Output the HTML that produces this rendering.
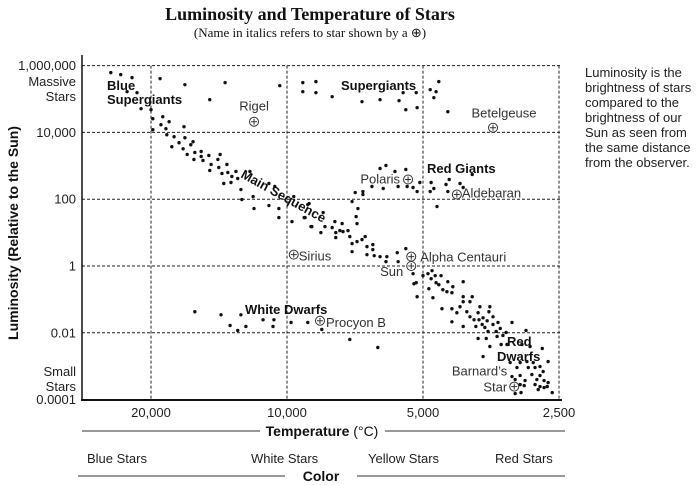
<!DOCTYPE html>
<html><head><meta charset="utf-8"><title>Luminosity and Temperature of Stars</title>
<style>
html,body{margin:0;padding:0;background:#fff;}
svg{display:block;font-family:"Liberation Sans",sans-serif;}
.tick{font-size:13px;fill:#222;}
.lbl{font-size:13px;fill:#333;}
.bold{font-size:13px;font-weight:bold;fill:#111;}
.grid{stroke:#222;stroke-width:1;stroke-dasharray:3,2;}
</style></head>
<body>
<svg id="chart" width="700" height="485" viewBox="0 0 700 485" xmlns="http://www.w3.org/2000/svg">
<text x="310" y="20" text-anchor="middle" style="font-family:'Liberation Serif',serif;font-weight:bold;font-size:18px;fill:#111">Luminosity and Temperature of Stars</text>
<text x="310" y="37" text-anchor="middle" style="font-family:'Liberation Serif',serif;font-size:13px;fill:#111">(Name in italics refers to star shown by a ⊕)</text>
<g id="grid"></g>
<line x1="82" y1="55" x2="82" y2="401" stroke="#111" stroke-width="1.5"/>
<line x1="81" y1="400" x2="562" y2="400" stroke="#111" stroke-width="2"/>
<g id="ticks"></g>
<text class="tick" text-anchor="end" x="76" y="86">Massive</text>
<text class="tick" text-anchor="end" x="76" y="101">Stars</text>
<text class="tick" text-anchor="end" x="76" y="376">Small</text>
<text class="tick" text-anchor="end" x="76" y="391">Stars</text>
<text transform="translate(18,233) rotate(-90)" text-anchor="middle" style="font-size:14px;font-weight:bold;fill:#111">Luminosity (Relative to the Sun)</text>
<line x1="82" y1="431" x2="260" y2="431" stroke="#333"/>
<line x1="385" y1="431" x2="565" y2="431" stroke="#333"/>
<text x="322" y="436" text-anchor="middle" style="font-size:14px;fill:#111"><tspan font-weight="bold">Temperature</tspan> (°C)</text>
<text class="tick" x="87" y="463">Blue Stars</text>
<text class="tick" x="251" y="463">White Stars</text>
<text class="tick" x="368" y="463">Yellow Stars</text>
<text class="tick" x="495" y="463">Red Stars</text>
<line x1="78" y1="476" x2="285" y2="476" stroke="#333"/>
<line x1="357" y1="476" x2="565" y2="476" stroke="#333"/>
<text x="321" y="481" text-anchor="middle" style="font-size:14px;font-weight:bold;fill:#111">Color</text>
<g class="lbl" style="font-size:13px;fill:#222">
<text x="585" y="77">Luminosity is the</text>
<text x="585" y="92">brightness of stars</text>
<text x="585" y="107">compared to the</text>
<text x="585" y="122">brightness of our</text>
<text x="585" y="137">Sun as seen from</text>
<text x="585" y="152">the same distance</text>
<text x="585" y="167">from the observer.</text>
</g>
<g id="dots"></g>
<g id="named"></g>
<g>
<text class="bold" x="107" y="90">Blue</text>
<text class="bold" x="107" y="104">Supergiants</text>
<text class="bold" x="341" y="90">Supergiants</text>
<text class="bold" x="427" y="173">Red Giants</text>
<text class="bold" transform="translate(240,177) rotate(29)">Main Sequence</text>
<text class="bold" x="245" y="314">White Dwarfs</text>
<text class="bold" x="507" y="346">Red</text>
<text class="bold" x="497" y="361">Dwarfs</text>
</g>
</svg>
<script>
// Data: temperature as log10(°C), luminosity as log10(L/Lsun)
const xTickValues = [20000, 10000, 5000, 2500];
const xTickLabels = ["20,000", "10,000", "5,000", "2,500"];
const yTickValues = [1000000, 10000, 100, 1, 0.01, 0.0001];
const yTickLabels = ["1,000,000", "10,000", "100", "1", "0.01", "0.0001"];
const starLogTemp = [
4.390,4.368,4.343,4.354,4.332,4.323,4.301,4.297,4.297,4.281,4.226,4.137,4.171,4.016,
4.275,4.261,4.279,4.268,4.228,4.266,4.250,4.226,4.239,4.208,4.213,4.255,4.230,4.221,4.204,4.190,4.190,4.173,4.148,4.206,4.186,4.153,4.168,4.133,4.171,4.151,4.144,4.131,4.113,4.122,4.109,4.082,4.140,4.124,4.102,4.100,4.075,4.073,4.040,4.027,4.040,4.018,4.018,3.985,3.989,3.951,3.960,3.947,3.925,
3.965,3.936,3.965,3.936,3.900,3.834,3.794,3.752,3.743,3.714,3.737,3.712,3.683,3.670,3.664,3.675,3.644,
3.794,3.781,3.761,3.737,3.849,3.832,3.832,3.812,3.787,3.754,3.734,3.721,3.712,3.706,3.681,3.683,3.675,3.648,3.641,3.617,3.644,3.610,3.590,3.668,
3.856,3.843,3.847,3.845,3.954,3.920,3.962,3.945,3.916,3.900,3.894,3.878,3.892,3.883,3.876,3.865,3.892,3.861,3.834,3.827,3.845,3.856,3.810,3.823,3.856,3.810,3.823,3.807,3.794,3.779,3.781,3.756,3.754,3.737,
3.721,3.714,3.719,3.712,3.699,3.688,3.679,3.681,3.672,3.670,3.659,3.664,3.686,3.677,3.655,3.644,3.646,3.635,3.633,3.610,3.657,3.635,3.617,3.610,3.610,3.595,3.590,3.624,3.602,3.577,3.595,3.635,3.573,3.553,3.551,3.586,3.575,3.566,3.557,3.544,3.610,3.582,3.568,3.562,3.544,3.533,3.528,3.502,3.555,3.537,3.515,3.471,3.577,3.559,3.535,3.522,3.551,3.526,3.513,3.480,3.462,3.435,3.566,3.506,3.484,3.469,3.455,3.422,3.491,3.466,3.451,3.440,3.433,3.502,3.484,3.458,3.440,3.495,3.473,3.447,3.431,3.422,3.451,3.440,3.424,3.484,3.475,3.495,3.482,3.444,3.431,3.413,
4.204,4.146,4.102,4.126,4.109,4.091,4.053,4.029,4.031,3.991,3.954,3.923,3.861,3.799
];
const starLogLum = [
5.79,5.73,5.64,5.22,5.19,4.71,4.68,4.41,4.08,5.61,5.43,5.49,4.98,5.40,
4.47,4.32,4.23,4.11,4.17,3.93,3.87,3.84,3.69,3.72,3.63,3.57,3.51,3.34,3.40,3.43,3.28,3.31,3.34,3.19,3.16,3.19,3.04,3.04,2.86,2.95,2.77,2.80,2.83,2.68,2.62,2.83,2.47,2.50,2.29,1.99,2.08,1.72,2.47,2.38,1.81,1.72,1.45,2.08,1.33,1.87,1.45,1.18,1.00,
5.49,5.52,5.22,5.19,5.07,4.92,4.98,4.95,5.19,5.19,4.68,4.74,5.28,5.22,5.52,5.04,4.62,
2.92,3.01,2.83,2.89,2.20,2.23,2.14,2.38,2.32,2.38,2.38,2.35,2.23,2.50,2.50,2.23,2.32,2.44,2.59,2.47,2.23,2.35,2.74,1.78,
1.93,1.72,1.48,1.27,1.84,1.60,1.45,1.18,1.18,1.15,1.33,1.27,1.00,1.06,1.03,1.06,0.85,0.88,0.79,0.88,0.73,0.67,0.64,0.58,0.43,0.49,0.34,0.31,0.28,0.28,0.13,0.40,0.13,0.52,
-0.23,-0.50,-0.53,-0.92,-0.29,-0.23,-0.14,-0.38,-0.29,-0.50,-0.29,-0.56,-0.68,-0.95,-0.71,-0.47,-0.77,-0.80,-0.62,-0.47,-1.28,-1.28,-1.22,-0.92,-1.07,-1.07,-0.92,-1.40,-1.37,-1.40,-1.52,-1.67,-1.22,-1.37,-1.22,-1.61,-1.61,-1.55,-1.64,-1.52,-1.81,-1.81,-1.75,-1.84,-1.75,-1.69,-1.87,-1.69,-1.96,-1.96,-1.99,-1.93,-2.17,-2.17,-2.11,-2.08,-2.41,-2.35,-2.35,-2.35,-2.41,-2.47,-2.71,-2.89,-2.89,-2.86,-2.89,-2.86,-3.04,-3.04,-3.04,-3.01,-3.16,-3.31,-3.28,-3.25,-3.28,-3.40,-3.43,-3.40,-3.43,-3.49,-3.55,-3.61,-3.61,-3.55,-3.58,-3.82,-3.79,-3.70,-3.64,-3.79,
-1.37,-1.46,-1.46,-1.78,-1.93,-1.81,-1.61,-1.61,-1.81,-1.69,-1.69,-1.90,-2.20,-2.44
];
const namedStars = ["Rigel","Betelgeuse","Polaris","Aldebaran","Sirius","Alpha Centauri","Sun","Procyon B","Barnard's Star"];
const namedLogTemp = [4.073,3.544,3.732,3.624,3.985,3.725,3.725,3.927,3.497];
const namedLogLum = [4.32,4.14,2.59,2.14,0.34,0.28,0.0,-1.64,-3.61];

const NS = "http://www.w3.org/2000/svg";
const X0 = 287, PX_PER_OCT = 136, Y0 = 266, PX_PER_DEC = 33.4;
function xScaleLog(lt){ return X0 + (4 - lt) * Math.LN10 / Math.LN2 * PX_PER_OCT; }
function xScale(t){ return xScaleLog(Math.log10(t)); }
function yScaleLog(ll){ return Y0 - ll * PX_PER_DEC; }
function yScale(l){ return yScaleLog(Math.log10(l)); }
function mk(tag, attrs, parent){ const e=document.createElementNS(NS,tag); for(const k in attrs) e.setAttribute(k,attrs[k]); parent.appendChild(e); return e; }

const grid = document.getElementById("grid");
const ticks = document.getElementById("ticks");
xTickValues.forEach((v,i)=>{
  const x = xScale(v);
  const l = mk("line",{x1:x,y1:yScale(1000000),x2:x,y2:400,class:"grid"},grid);
  
  
  const t = mk("text",{x:x,y:417,"text-anchor":"middle",class:"tick"},ticks);
  t.textContent = xTickLabels[i];
  
  
});
yTickValues.forEach((v,i)=>{
  const y = yScale(v);
  if (i < yTickValues.length-1) {
    const l = mk("line",{x1:82,y1:y,x2:562,y2:y,class:"grid"},grid);
    
    
  }
  const t = mk("text",{x:76,y:y+4.5,"text-anchor":"end",class:"tick"},ticks);
  t.textContent = yTickLabels[i];
  
  
});

const dots = document.getElementById("dots");
starLogTemp.forEach((lt,i)=>{
  const c = mk("circle",{cx:xScaleLog(lt),cy:yScaleLog(starLogLum[i]),r:1.7,fill:"#111"},dots);
  
  
});

// label placements relative to marker: [dx, dy, anchor]
const labelOffsets = [[0,-11,"middle"],[11,-10,"middle"],[-8,4,"end"],[5,3,"start"],[5,6,"start"],[9,5,"start"],[-8,10,"end"],[6,6,"start"],[-7,4,"end"]];
const named = document.getElementById("named");
namedStars.forEach((n,i)=>{
  const x = xScaleLog(namedLogTemp[i]), y = yScaleLog(namedLogLum[i]);
  const g = mk("g",{},named);
  
  
  mk("circle",{cx:x,cy:y,r:4.5,fill:"#fff",stroke:"#333","stroke-width":1},g);
  mk("line",{x1:x-3,y1:y,x2:x+3,y2:y,stroke:"#333","stroke-width":1},g);
  mk("line",{x1:x,y1:y-3,x2:x,y2:y+3,stroke:"#333","stroke-width":1},g);
  const o = labelOffsets[i];
  if (n === "Barnard's Star") {
    const t1 = mk("text",{x:x+o[0],y:y-11,"text-anchor":"end",class:"lbl"},named);
    t1.textContent = "Barnard’s";
    
    
    const t2 = mk("text",{x:x+o[0],y:y+o[1]+1,"text-anchor":"end",class:"lbl"},named);
    t2.textContent = "Star";
    
    
  } else {
    const t = mk("text",{x:x+o[0],y:y+o[1],"text-anchor":o[2],class:"lbl"},named);
    t.textContent = n;
    
    
  }
});
</script>
</body></html>
